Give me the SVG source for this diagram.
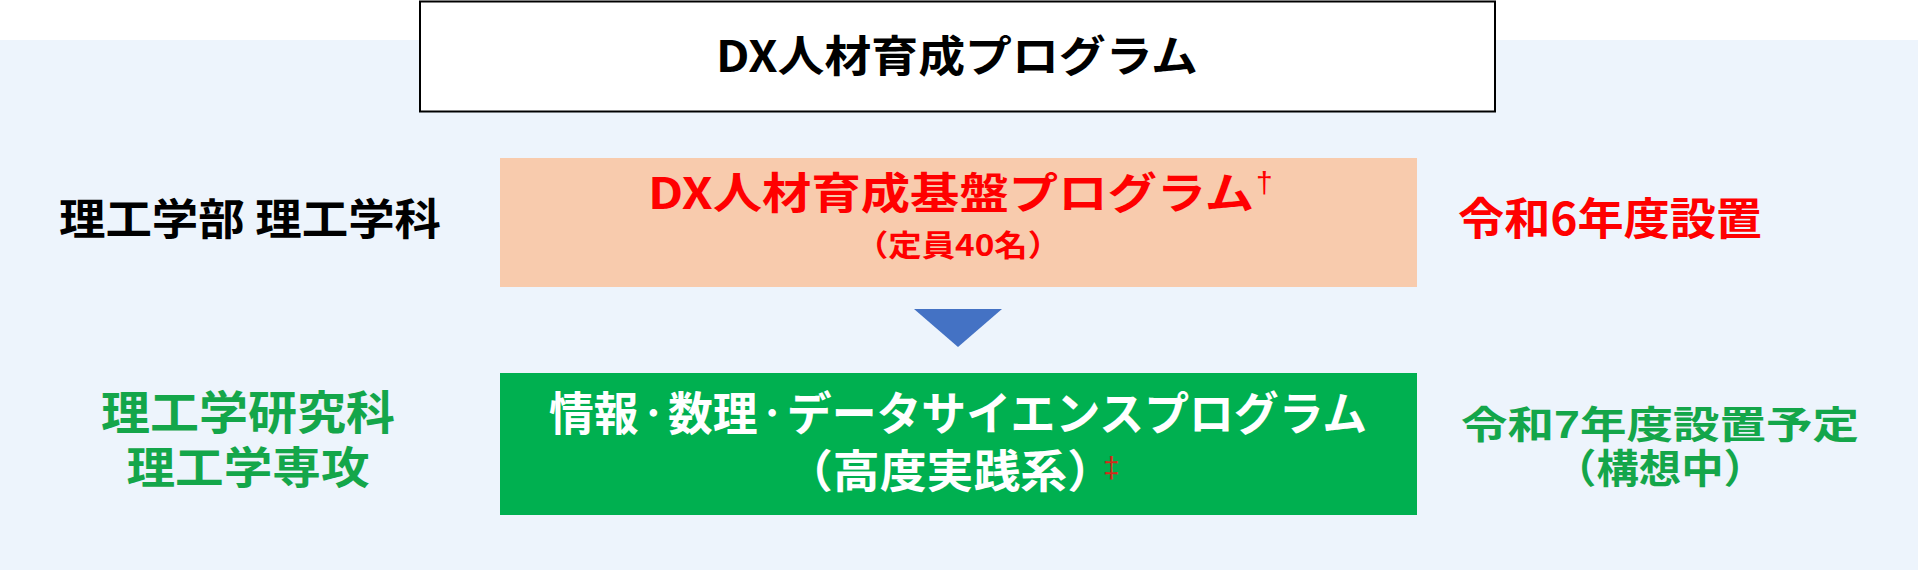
<svg xmlns="http://www.w3.org/2000/svg" width="1918" height="570" viewBox="0 0 1918 570">
<defs>
<style>
text{font-family:"Noto Sans CJK JP","Noto Sans CJK SC",sans-serif;font-weight:700}
.tight{font-family:"Liberation Sans","Noto Sans CJK JP","Noto Sans CJK SC",sans-serif}
.c{text-anchor:middle}
.blk{fill:#000000}
.red{fill:#FF0000}
.grn{fill:#14A64A}
.wht{fill:#FFFFFF}
.dot{font-size:30px}
.mark{font-family:"Liberation Sans","DejaVu Sans",sans-serif;font-weight:400}
</style>
</defs>
<rect x="0" y="0" width="1918" height="570" fill="#FFFFFF"/>
<rect x="0" y="40" width="1918" height="530" fill="#EDF4FC"/>

<g id="title">
<rect x="420" y="1.5" width="1075" height="110" fill="#FFFFFF" stroke="#000000" stroke-width="2"/>
<text class="c blk" x="957" y="72" font-size="43" textLength="482" lengthAdjust="spacingAndGlyphs">DX人材育成プログラム</text>
</g>

<g id="undergrad-label">
<text class="c blk" x="250" y="235" font-size="43" textLength="382" lengthAdjust="spacingAndGlyphs">理工学部 理工学科</text>
</g>

<g id="basic-program">
<rect x="500" y="158" width="917" height="129" fill="#F8CBAD"/>
<text class="c red" x="951" y="209" font-size="43" textLength="606" lengthAdjust="spacingAndGlyphs">DX人材育成基盤プログラム</text>
<text class="red mark" x="1256" y="193" font-size="30">†</text>
<text class="c red" x="958" y="256" font-size="30" textLength="206" lengthAdjust="spacingAndGlyphs">（定員40名）</text>
</g>

<g id="basic-year">
<text class="c red" x="1610" y="235" font-size="44" textLength="304" lengthAdjust="spacingAndGlyphs">令和6年度設置</text>
</g>

<g id="connectors">
<polygon points="914,309 1002,309 958,347" fill="#4472C4"/>
</g>

<g id="grad-label">
<text class="c grn tight" x="248" y="429" font-size="46" textLength="294" lengthAdjust="spacingAndGlyphs">理工学研究科</text>
<text class="c grn tight" x="248" y="484" font-size="44" textLength="243" lengthAdjust="spacingAndGlyphs">理工学専攻</text>
</g>

<g id="advanced-program">
<rect x="500" y="373" width="917" height="142" fill="#00B050"/>
<text class="c wht tight" x="958" y="430" font-size="46" textLength="818" lengthAdjust="spacingAndGlyphs">情報<tspan class="dot" dy="-6">・</tspan><tspan dy="6">数理</tspan><tspan class="dot" dy="-6">・</tspan><tspan dy="6">データサイエンスプログラム</tspan></text>
<text class="c wht tight" x="950" y="488" font-size="45" textLength="328" lengthAdjust="spacingAndGlyphs">（高度実践系）</text>
<text class="mark" x="1103" y="478" font-size="30" fill="#D42A1A">‡</text>
</g>

<g id="advanced-year">
<text class="c grn tight" x="1660" y="438" font-size="38" textLength="398" lengthAdjust="spacingAndGlyphs">令和7年度設置予定</text>
<text class="c grn tight" x="1660" y="483" font-size="40" textLength="212" lengthAdjust="spacingAndGlyphs">（構想中）</text>
</g>
</svg>
